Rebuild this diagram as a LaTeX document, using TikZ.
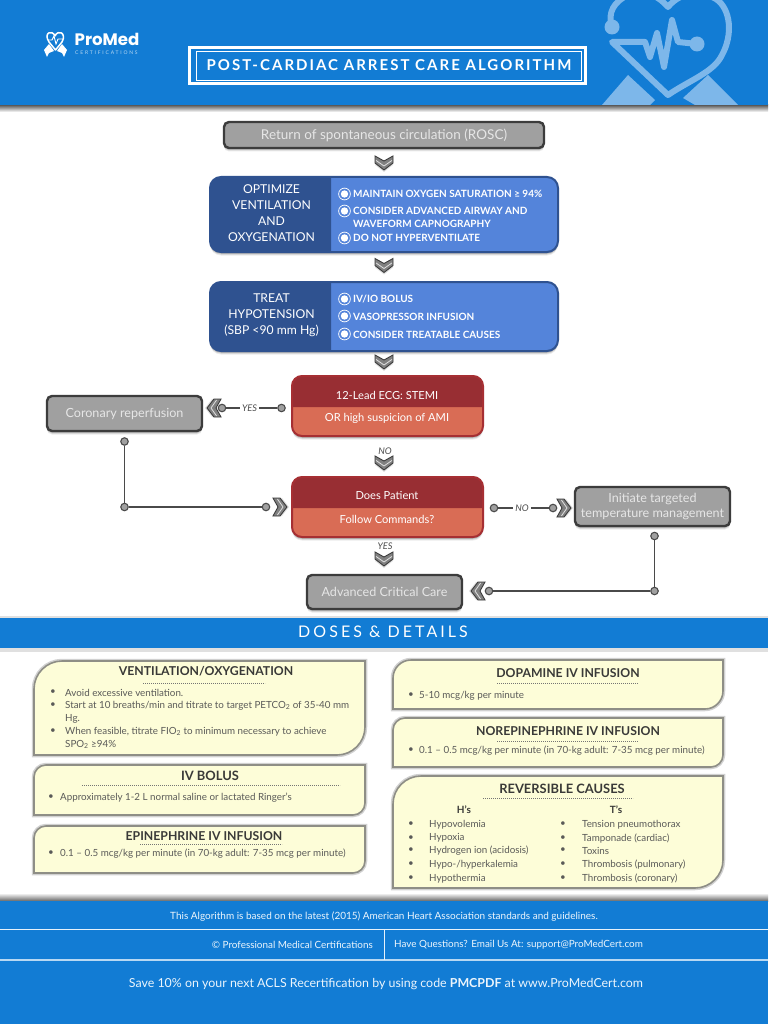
\documentclass[tikz,border=0pt]{standalone}
\usepackage{fontspec}
\setmainfont{Lato}
\newfontfamily\ttlfont[LetterSpace=13.5]{Lato}
\newfontfamily\dosefont[LetterSpace=19]{Lato}
\newfontfamily\certfont[LetterSpace=36]{Lato}
\newfontfamily\logofont{Poppins}
\usetikzlibrary{shadows,calc}
\definecolor{hdr}{HTML}{127CD4}
\definecolor{hlite}{HTML}{7DB7EA}
\definecolor{gbox}{HTML}{A0A0A0}
\definecolor{gedge}{HTML}{3C3C3C}
\definecolor{gtxt}{HTML}{E6E6E6}
\definecolor{navy}{HTML}{2F5290}
\definecolor{bluer}{HTML}{5484DA}
\definecolor{redd}{HTML}{982E33}
\definecolor{redl}{HTML}{D96C55}
\definecolor{redge}{HTML}{A62F33}
\definecolor{cardy}{HTML}{FDFDD8}
\definecolor{cardedge}{HTML}{8E8E86}
\definecolor{ink}{HTML}{3A3A38}
\definecolor{body}{HTML}{5A5A58}
\definecolor{conn}{HTML}{4A4A4A}
\tikzset{
  softshadow/.style={
    general shadow={shadow xshift=0pt,shadow yshift=-3.5pt,fill=black,opacity=.08},
    general shadow={shadow xshift=0pt,shadow yshift=-2.5pt,fill=black,opacity=.12},
    general shadow={shadow xshift=0pt,shadow yshift=-1.5pt,fill=black,opacity=.18}},
  graybox/.style={draw=gedge,line width=2.4pt,fill=gbox,rounded corners=5pt,text=gtxt,align=center,inner sep=0pt,softshadow,
     font=\fontsize{12.6}{15}\selectfont},
  blueouter/.style={fill=bluer,rounded corners=11pt,inner sep=0pt,softshadow},
  blueedge/.style={draw=navy,line width=2pt,rounded corners=11pt},
  lefttext/.style={text=white,align=center,inner sep=0pt,font=\fontsize{12.2}{16}\selectfont},
  radiotext/.style={text=white,anchor=west,align=left,inner sep=0pt,font=\fontsize{10}{12.5}\selectfont\bfseries},
  redouter/.style={fill=redl,rounded corners=10pt,inner sep=0pt,softshadow},
  redtext/.style={text=white,inner sep=0pt,font=\fontsize{11.1}{13}\selectfont},
  dot/.style={circle,draw=conn,line width=1.1pt,fill=gbox,minimum size=7.5pt,inner sep=0pt},
  conn/.style={draw=conn,line width=1.8pt},
  flowlabel/.style={text=conn,inner sep=3pt,font=\fontsize{9.2}{10}\selectfont\itshape},
  carditself/.style={fill=cardy,draw=cardedge,line width=1.6pt},
  cardhalo/.style={draw=black,opacity=.18,line width=4.5pt},
  cardhead/.style={text=ink,inner sep=0pt,font=\fontsize{12.25}{13}\selectfont\bfseries},
  cardbody/.style={text=body,anchor=west,align=left,inner sep=0pt,yshift=-.6pt,font=\fontsize{9.8}{13}\selectfont},
  colhead/.style={text=ink,inner sep=0pt,font=\fontsize{10}{11}\selectfont\bfseries},
  dots/.style={draw=ink!70,line width=1pt,line cap=butt,dash pattern=on .9pt off 1.1pt},
  foot/.style={text=white!92!hdr,inner sep=0pt},
  chev/.pic={
    \path[fill=black,opacity=.12] (-9,-5) -- (0,0) -- (9,-5) -- (9,2) -- (0,9) -- (-9,2) -- cycle;
    \path[fill=gray,draw=gedge,line width=.9pt,line join=miter] (-9,-7) -- (0,-2) -- (9,-7) -- (9,0) -- (0,7) -- (-9,0) -- cycle;
    \path[draw=white!75!gray,line width=.8pt] (-8,-2.6) -- (0,3) -- (8,-2.6);
  },
  radio/.pic={
    \path[draw=white,line width=.7pt] (0,0) circle[radius=5.9pt];
    \path[fill=white] (0,0) circle[radius=3.7pt];
  }
}
\newcount\itmc
\newcommand\itm[4]{% x-bullet, x-text, y, text
  \global\advance\itmc by 1
  \node[cardbody] (bul\the\itmc) at (#1,#3) {•};
  \node[cardbody] (itm\the\itmc) at (#2,#3) {#4};}
\newcommand\cardshape[6]{% style x1 y1 x2 y2 r : round TL and BR
  \path[#1] ({#2+#6},#3) -- (#4,#3) -- (#4,{#5-#6})
    .. controls (#4,{#5-.45*#6}) and ({#4-.45*#6},#5) .. ({#4-#6},#5)
    -- (#2,#5) -- (#2,{#3+#6})
    .. controls (#2,{#3+.45*#6}) and ({#2+.45*#6},#3) .. ({#2+#6},#3) -- cycle;}
\newcommand\card[5]{\cardshape{cardhalo}{#1}{#2}{#3}{#4}{#5}\cardshape{carditself}{#1}{#2}{#3}{#4}{#5}}
\newcommand\redtop[2]{% top y, split y
  \fill[redd] (292,#2) -- (292,{#1+10}) .. controls (292,{#1+4.5}) and (296.5,#1) .. (302,#1)
    -- (473,#1) .. controls (478.5,#1) and (483,{#1+4.5}) .. (483,{#1+10}) -- (483,#2) -- cycle;}
\begin{document}
\begin{tikzpicture}[x=1pt,y=-1pt]
\useasboundingbox (0,0) rectangle (768,1024);
\fill[white] (0,0) rectangle (768,1024);
% header
\shade[top color=black!65,bottom color=white] (0,105) rectangle (768,112);
\fill[hdr] (0,0) rectangle (768,105.5);
\begin{scope}
\clip (590,0) rectangle (768,105);
\fill[hlite] (602,105) -- (628,75) -- (655,100) -- (650,105) -- cycle;
\fill[hlite] (683,98) -- (708,75) -- (738,105) -- (695,105) -- cycle;
\draw[hlite,line width=6pt,line join=round,line cap=round]
  (612,27) .. controls (607,12) and (615,2) .. (626,-4)
  .. controls (640,-10) and (655,-8) .. (668,7)
  .. controls (680,-8) and (700,-10) .. (716,-1)
  .. controls (731,9) and (733,35) .. (722,55)
  .. controls (714,72) and (690,80) .. (668,95)
  -- (612,42) -- (645,42) -- (650,57) -- (657,33) -- (664,67) -- (672,20) -- (678,42) -- (697,44);
\fill[hlite] (612,27) circle[radius=7.5];
\fill[hlite] (697,44) circle[radius=7.5];
\end{scope}
% logo
\draw[white,line width=1.5pt,line join=round]
  (49,42) .. controls (43,33) and (52,29) .. (55,36) .. controls (58,29) and (67,33) .. (62,42) -- (55.5,50) -- cycle;
\draw[white,line width=.9pt] (48,40) -- (52,40) -- (54,36) -- (56,44) -- (58,39) -- (63,39);
\fill[white] (44,50) -- (49,44) -- (54,51) -- (49,53) -- (47,57) -- cycle;
\fill[white] (57,51) -- (62,44) -- (67,50) -- (64,57) -- (62,53) -- cycle;
\node[inner sep=0pt,anchor=west,text=white,text height=11pt,text depth=0pt,font=\logofont\fontsize{16.6}{18}\selectfont\bfseries] (logoname) at (74.5,40) {ProMed};
\node[inner sep=0pt,anchor=west,text=white!70!hdr,font=\certfont\fontsize{5}{6}\selectfont] (logosub) at (75,52.5) {CERTIFICATIONS};
% title
\node[draw=white,line width=3.6pt,fill=hdr,minimum width=396pt,minimum height=36pt,inner sep=0pt,
  general shadow={shadow xshift=1pt,shadow yshift=-2pt,fill=black,opacity=.3}] (titlebox) at (387.5,65.5) {};
\node[draw=white,line width=.7pt,minimum width=385pt,minimum height=29pt,inner sep=0pt] (titleline) at (388.5,65.5) {};
\node[inner sep=0pt,text=white,font=\ttlfont\fontsize{15}{16}\selectfont\bfseries] (title) at (389,65) {POST-CARDIAC ARREST CARE ALGORITHM};
% ROSC
\node[graybox,font=\fontsize{13.5}{15}\selectfont,minimum width=320pt,minimum height=26pt] (rosc) at (384,135) {Return of spontaneous circulation (ROSC)};
\pic at (384,163) {chev};
% optimize
\node[blueouter,minimum width=348pt,minimum height=75pt] (opt) at (384,214.5) {};
\fill[navy] (331,177) [rounded corners=11pt] -- (210,177) -- (210,252) [sharp corners] -- (331,252) -- cycle;
\node[blueedge,minimum width=348pt,minimum height=75pt,inner sep=0pt] (optedge) at (384,214.5) {};
\node[lefttext] (optl) at (271.5,213.5) {OPTIMIZE\\VENTILATION\\AND\\OXYGENATION};
\pic at (344.5,194) {radio};
\pic at (344.5,211) {radio};
\pic at (344.5,238) {radio};
\node[radiotext] (o1) at (353,193.5) {MAINTAIN OXYGEN SATURATION ≥ 94\%};
\node[radiotext] (o2) at (353,217.5) {CONSIDER ADVANCED AIRWAY AND\\WAVEFORM CAPNOGRAPHY};
\node[radiotext] (o3) at (353,238) {DO NOT HYPERVENTILATE};
\pic at (384,265.5) {chev};
% treat
\node[blueouter,minimum width=348pt,minimum height=69pt] (trt) at (384,316.5) {};
\fill[navy] (331,282) [rounded corners=11pt] -- (210,282) -- (210,351) [sharp corners] -- (331,351) -- cycle;
\node[blueedge,minimum width=348pt,minimum height=69pt,inner sep=0pt] (trtedge) at (384,316.5) {};
\node[lefttext] (trtl) at (271.5,315.5) {TREAT\\HYPOTENSION\\(SBP <90 mm Hg)};
\pic at (344.5,299) {radio};
\pic at (344.5,316) {radio};
\pic at (344.5,334) {radio};
\node[radiotext] (t1) at (353,299) {IV/IO BOLUS};
\node[radiotext] (t2) at (353,316.5) {VASOPRESSOR INFUSION};
\node[radiotext] (t3) at (353,335) {CONSIDER TREATABLE CAUSES};
\pic at (384,362) {chev};
% ECG
\node[redouter,minimum width=191pt,minimum height=60pt] (ecg) at (387.5,406) {};
\redtop{376}{407}
\node[draw=redge,line width=2pt,rounded corners=10pt,minimum width=191pt,minimum height=60pt,inner sep=0pt] (ecgedge) at (387.5,406) {};
\node[redtext] (e1) at (387,395.5) {12-Lead ECG: STEMI};
\node[redtext] (e2) at (387,418) {OR high suspicion of AMI};
\node[flowlabel] (nolab) at (385,451) {NO};
\pic at (384,463) {chev};
% commands
\node[redouter,minimum width=191pt,minimum height=60pt] (cmd) at (387.5,507) {};
\redtop{477}{508}
\node[draw=redge,line width=2pt,rounded corners=10pt,minimum width=191pt,minimum height=60pt,inner sep=0pt] (cmdedge) at (387.5,507) {};
\node[redtext] (c1) at (387,495.5) {Does Patient};
\node[redtext] (c2) at (387,519) {Follow Commands?};
\node[flowlabel] (yeslab) at (385,546) {YES};
\pic at (384,559) {chev};
% gray boxes
\node[graybox,minimum width=155pt,minimum height=35pt] (cor) at (124.5,413.5) {Coronary reperfusion};
\node[graybox,minimum width=155pt,minimum height=39pt] (ttm) at (652.5,506.5) {Initiate targeted\\temperature management};
\node[graybox,minimum width=155pt,minimum height=34pt] (acc) at (384.5,592) {Advanced Critical Care};
% connectors
\node[dot] (a1) at (222,408) {};
\node[dot] (a2) at (281.5,408) {};
\node[flowlabel,inner sep=2pt] (yesa) at (249.5,408) {YES};
\draw[conn] (a1) -- (yesa);
\draw[conn] (yesa) -- (a2);
\pic[rotate=-90] at (214,408) {chev};
\node[dot] (b1) at (124.5,441.5) {};
\node[dot] (b2) at (124.5,507) {};
\node[dot] (b3) at (266,507) {};
\draw[conn] (b1) -- (b2);
\draw[conn] (b2) -- (b3);
\pic[rotate=90] at (280,507) {chev};
\node[dot] (d1) at (494,508) {};
\node[dot] (d2) at (553,508) {};
\node[flowlabel,inner sep=2pt] (nob) at (522,508) {NO};
\draw[conn] (d1) -- (nob);
\draw[conn] (nob) -- (d2);
\pic[rotate=90] at (564,508) {chev};
\node[dot] (f1) at (654.5,536) {};
\node[dot] (f2) at (654.5,591) {};
\node[dot] (f3) at (489,591) {};
\draw[conn] (f1) -- (f2);
\draw[conn] (f2) -- (f3);
\pic[rotate=-90] at (478,591) {chev};
% doses band
\fill[black!12] (0,616) rectangle (768,652);
\fill[hdr] (0,618) rectangle (768,648);
\node[inner sep=0pt,text=white,font=\dosefont\fontsize{16}{18}\selectfont] (doses) at (383,632) {DOSES \& DETAILS};
% cards
\card{34}{661}{365}{755}{28}
\node[cardhead] (h1) at (206,671.5) {VENTILATION/OXYGENATION};
\draw[dots] (143,683) -- (265,683);
\itm{50}{65}{692}{Avoid excessive ventilation.}
\itm{50}{65}{705}{Start at 10 breaths/min and titrate to target PETCO\textsubscript{2} of 35-40 mm}
\node[cardbody] (hg) at (65,718) {Hg.};
\itm{50}{65}{731}{When feasible, titrate FIO\textsubscript{2} to minimum necessary to achieve}
\node[cardbody] (spo) at (65,744) {SPO\textsubscript{2} ≥94\%};
\card{34}{765}{365}{815}{12}
\node[cardhead,font=\fontsize{12.9}{13}\selectfont\bfseries] (h2) at (210,775.5) {IV BOLUS};
\draw[dots] (82,785) -- (340,785);
\itm{48}{60}{797}{Approximately 1-2 L normal saline or lactated Ringer's}
\card{34}{826}{365}{873}{12}
\node[cardhead] (h3) at (204,836) {EPINEPHRINE IV INFUSION};
\draw[dots] (140,844) -- (282,844);
\itm{48}{60}{853}{0.1 – 0.5 mcg/kg per minute (in 70-kg adult: 7-35 mcg per minute)}
\card{393}{660}{723}{709}{18}
\node[cardhead] (h4) at (568,673.5) {DOPAMINE IV INFUSION};
\draw[dots] (497,683) -- (638,683);
\itm{408}{419}{695}{5-10 mcg/kg per minute}
\card{393}{718}{723}{767}{12}
\node[cardhead] (h5) at (568,731.5) {NOREPINEPHRINE IV INFUSION};
\draw[dots] (497,741) -- (638,741);
\itm{408}{419}{750}{0.1 – 0.5 mcg/kg per minute (in 70-kg adult: 7-35 mcg per minute)}
\card{393}{776}{723}{888}{28}
\node[cardhead,font=\fontsize{12.9}{13}\selectfont\bfseries] (h6) at (562,789) {REVERSIBLE CAUSES};
\draw[dots] (483,798) -- (633,798);
\node[colhead] (hs) at (464,809.5) {H's};
\node[colhead] (ts) at (616,809.5) {T's};
\itm{408}{429}{824}{Hypovolemia}
\itm{408}{429}{837.5}{Hypoxia}
\itm{408}{429}{850}{Hydrogen ion (acidosis)}
\itm{408}{429}{864}{Hypo-/hyperkalemia}
\itm{408}{429}{878}{Hypothermia}
\itm{560}{582}{824}{Tension pneumothorax}
\itm{560}{582}{837.5}{Tamponade (cardiac)}
\itm{560}{582}{850}{Toxins}
\itm{560}{582}{864}{Thrombosis (pulmonary)}
\itm{560}{582}{878}{Thrombosis (coronary)}
% footer
\shade[top color=white,bottom color=black!60] (0,893) rectangle (768,901);
\fill[hdr] (0,901) rectangle (768,1024);
\draw[white!90!hdr,line width=1.3pt] (0,929.5) -- (768,929.5);
\draw[white!70!hdr,line width=1.3pt] (0,960) -- (768,960);
\draw[white!90!hdr,line width=1pt] (384.5,930) -- (384.5,960);
\node[foot,font=\fontsize{10}{11}\selectfont] (f1t) at (384,916.5) {This Algorithm is based on the latest (2015) American Heart Association standards and guidelines.};
\node[foot,anchor=east,font=\fontsize{9.9}{11}\selectfont] (f2t) at (373,945) {© Professional Medical Certifications};
\node[foot,anchor=west,font=\fontsize{9.9}{11}\selectfont] (f3t) at (394,945) {Have Questions? Email Us At: support@ProMedCert.com};
\node[foot,font=\fontsize{12.4}{14}\selectfont] (f4t) at (386,984) {Save 10\% on your next ACLS Recertification by using code \textbf{PMCPDF} at www.ProMedCert.com};
\end{tikzpicture}
\end{document}
